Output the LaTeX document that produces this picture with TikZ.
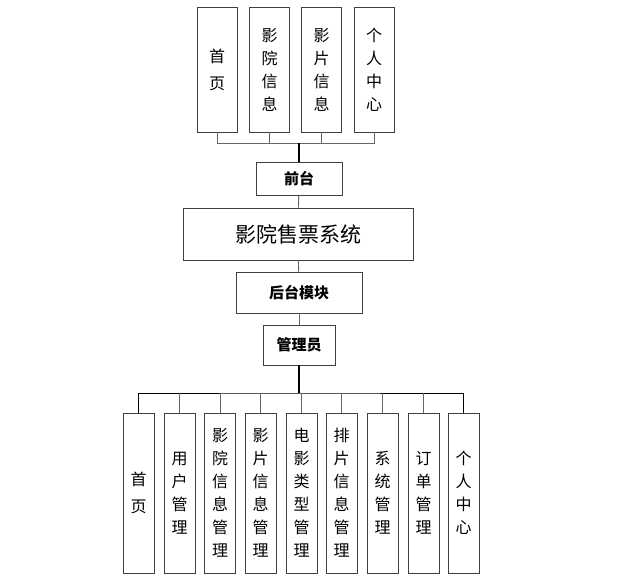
\documentclass[tikz,border=0pt]{standalone}
\usepackage{fontspec}
\newfontfamily\cjk{Noto Sans CJK SC}
\begin{document}
\begin{tikzpicture}[x=1pt,y=-1pt,
  box/.style={draw=black!75,line width=0.9pt,fill=white,inner sep=0pt,font=\cjk\fontsize{16}{23}\selectfont,align=center},
  boldbox/.style={box,font=\cjk\bfseries\fontsize{15}{18}\selectfont},
  conn/.style={draw=black!60,line width=0.9pt},
  trunk/.style={draw=black,line width=1.4pt}]
\useasboundingbox (0,0) rectangle (617,578);
% top boxes
\foreach \n/\x/\t in {t1/217/首\\[4pt]页,t2/269.5/影\\院\\信\\息,t3/321.5/影\\片\\信\\息,t4/374/个\\人\\中\\心}
  \node[box,minimum width=40pt,minimum height=125pt] (\n) at (\x,69.5) {\t};
\node[boldbox,minimum width=86pt,minimum height=33pt] (ft) at (299,178.5) {前台};
\node[box,font=\cjk\fontsize{21}{24}\selectfont,minimum width=230pt,minimum height=52pt] (sys) at (298,234) {影院售票系统};
\node[boldbox,minimum width=126pt,minimum height=41pt] (bk) at (299,292.5) {后台模块};
\node[boldbox,minimum width=72pt,minimum height=40pt] (adm) at (299,345) {管理员};
\coordinate (tj) at (299,143);
\foreach \n in {t1,t2,t3,t4} \draw[conn] (\n.south) |- (tj);
\draw[trunk] (tj) -- (ft.north);
\draw[conn] (ft) -- (sys);
\draw[conn] (sys) -- (bk);
\draw[conn] (bk) -- (adm);
% bottom boxes
\coordinate (bj) at (299,393);
\draw[trunk] (adm.south) -- (bj);
\foreach \n/\x/\t in {b1/138.5/首\\[4pt]页,b2/179.5/用\\户\\管\\理,b3/220/影\\院\\信\\息\\管\\理,b4/260.5/影\\片\\信\\息\\管\\理,b5/301.5/电\\影\\类\\型\\管\\理,b6/341.5/排\\片\\信\\息\\管\\理,b7/382.5/系\\统\\管\\理,b8/423.5/订\\单\\管\\理,b9/463.5/个\\人\\中\\心}
{
  \node[box,minimum width=31pt,minimum height=160pt] (\n) at (\x,493) {\t};
}
\draw[trunk,line width=1pt] (b1.north) |- (bj) -| (b9.north);
\foreach \n in {b2,b3,b4,b5,b6,b7,b8} \draw[conn] (\n.north) -- (\n.north |- bj);
\end{tikzpicture}
\end{document}
